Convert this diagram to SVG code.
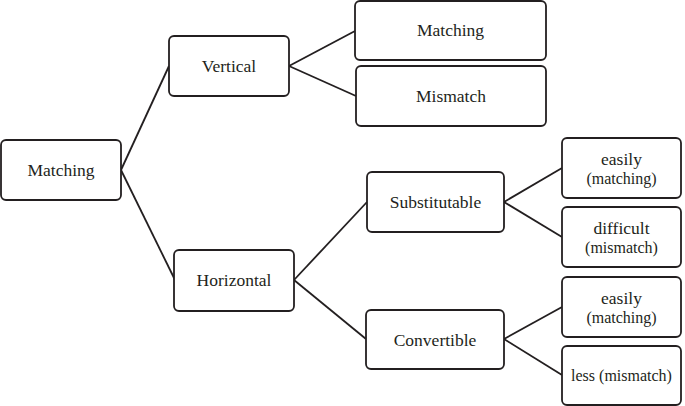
<svg xmlns="http://www.w3.org/2000/svg" width="685" height="406" viewBox="0 0 685 406">
<style>
.box{fill:#fff;stroke:#231f20;stroke-width:1.8}
.t{font-family:'Liberation Serif','Times New Roman','DejaVu Serif','Noto Serif',serif;font-size:17.5px;fill:#231f20;text-anchor:middle}
.s{font-size:16px}
.c line{stroke:#231f20;stroke-width:1.8}
</style>
<rect width="685" height="406" fill="#fff"/>
<g class="c" id="connectors">
<line x1="121" y1="170" x2="169" y2="66"/>
<line x1="121" y1="170" x2="175" y2="280"/>
<line x1="289" y1="66" x2="355" y2="31"/>
<line x1="289" y1="66" x2="356" y2="96"/>
<line x1="294" y1="280" x2="367" y2="202"/>
<line x1="294" y1="280" x2="366" y2="339"/>
<line x1="504" y1="202" x2="562" y2="168"/>
<line x1="504" y1="202" x2="562" y2="237"/>
<line x1="504" y1="339" x2="562" y2="307"/>
<line x1="504" y1="339" x2="562" y2="375"/>
</g>
<g id="root"><rect class="box" x="1" y="140" width="120" height="60" rx="5"/><text class="t" x="61" y="176" font-family="Liberation Serif, serif">Matching</text></g>
<g id="vertical"><rect class="box" x="169" y="36" width="120" height="60" rx="5"/><text class="t" x="229" y="72" font-family="Liberation Serif, serif">Vertical</text></g>
<g id="v-matching"><rect class="box" x="355" y="1" width="191" height="59" rx="5"/><text class="t" x="450.5" y="36" font-family="Liberation Serif, serif">Matching</text></g>
<g id="v-mismatch"><rect class="box" x="356" y="66" width="190" height="60" rx="5"/><text class="t" x="451" y="102" font-family="Liberation Serif, serif">Mismatch</text></g>
<g id="horizontal"><rect class="box" x="174" y="250" width="120" height="61" rx="5"/><text class="t" x="234" y="286" font-family="Liberation Serif, serif">Horizontal</text></g>
<g id="substitutable"><rect class="box" x="367" y="172" width="137" height="60" rx="5"/><text class="t" x="435.5" y="208" font-family="Liberation Serif, serif">Substitutable</text></g>
<g id="convertible"><rect class="box" x="366" y="310" width="138" height="59" rx="5"/><text class="t" x="435" y="346" font-family="Liberation Serif, serif">Convertible</text></g>
<g id="s-easily"><rect class="box" x="562" y="138" width="119" height="60" rx="5"/><text class="t" x="621.5" y="165" font-family="Liberation Serif, serif">easily</text><text class="t s" x="621.5" y="184" font-family="Liberation Serif, serif">(matching)</text></g>
<g id="s-difficult"><rect class="box" x="562" y="207" width="119" height="60" rx="5"/><text class="t" x="621.5" y="234" font-family="Liberation Serif, serif">difficult</text><text class="t s" x="621.5" y="253" font-family="Liberation Serif, serif">(mismatch)</text></g>
<g id="c-easily"><rect class="box" x="562" y="277" width="119" height="60" rx="5"/><text class="t" x="621.5" y="304" font-family="Liberation Serif, serif">easily</text><text class="t s" x="621.5" y="323" font-family="Liberation Serif, serif">(matching)</text></g>
<g id="c-less"><rect class="box" x="562" y="346" width="119" height="59" rx="5"/><text class="t s" x="621.5" y="381" font-family="Liberation Serif, serif">less (mismatch)</text></g>
</svg>
